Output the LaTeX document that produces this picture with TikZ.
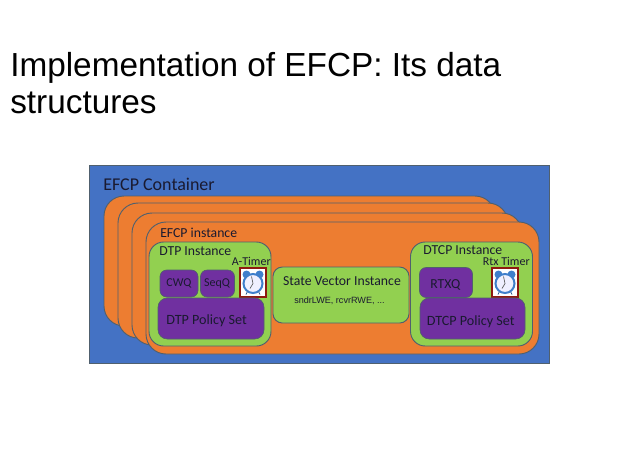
\documentclass[tikz,border=0pt]{standalone}
\usepackage{fontspec}
\setmainfont{Carlito}
\newfontfamily\titlefont{Liberation Sans}
\definecolor{cntblue}{HTML}{4472C4}
\definecolor{efcporange}{HTML}{ED7D31}
\definecolor{instgreen}{HTML}{92D050}
\definecolor{qpurple}{HTML}{7030A0}
\definecolor{edgegray}{HTML}{50606E}
\definecolor{timerred}{HTML}{8E1A10}
\definecolor{bellblue}{HTML}{3F7FCB}
\definecolor{inktext}{HTML}{1A1A30}
\tikzset{
  sized/.style 2 args={minimum width=#1*0.75pt, minimum height=#2*0.75pt, inner sep=0pt},
  efcpbox/.style={draw=edgegray, line width=0.7pt, fill=efcporange, rounded corners=15pt},
  instbox/.style={draw=edgegray, line width=0.7pt, fill=instgreen, rounded corners=11pt},
  qbox/.style={draw=edgegray, line width=0.5pt, fill=qpurple, rounded corners=5pt},
  policybox/.style={draw=edgegray, line width=0.5pt, fill=qpurple, rounded corners=7pt},
  timerbox/.style={draw=timerred, line width=1.8pt, fill=white},
  lbl/.style={font=\fontsize{10.3}{12}\selectfont, text=inktext, inner sep=0pt},
  smalllbl/.style={font=\fontsize{9}{10}\selectfont, text=inktext, inner sep=0pt},
  clockicon/.pic={
    \fill[bellblue] (-6.5,-8) circle (4);
    \fill[bellblue] (6.5,-8) circle (4);
    \draw[bellblue!70!black, line width=0.6pt] (-5,8) -- (-7,12) (5,8) -- (7,12);
    \draw[bellblue, line width=1.5pt, fill=blue!6] (0,1) circle (9.5);
    \draw[gray!70!black, line width=0.5pt] (0,1) -- (-1.5,-6) (0,1) -- (-3,6);
  }
}
\begin{document}
\begin{tikzpicture}[x=0.75pt, y=-0.75pt]
  \path[use as bounding box, fill=white] (0,0) rectangle (638,451);
  \node[font=\titlefont\fontsize{25}{27.75}\selectfont, text=black, align=left, anchor=north west, inner sep=0pt] (title) at (10,52.5)
    {Implementation of EFCP: Its data\\structures};

  \node[sized={460}{198}, draw=edgegray, line width=0.6pt, fill=cntblue] (container) at (319,264) {};
  \node[lbl, font=\fontsize{13.5}{15}\selectfont, anchor=west] (containerlbl) at (103,184) {EFCP Container};

  % stacked instances, back to front
  \node[efcpbox, sized={391}{130}] (efcp1) at (299.5,261) {};
  \node[efcpbox, sized={390}{135}] (efcp2) at (313,270.5) {};
  \node[efcpbox, sized={390}{132}] (efcp3) at (327,279) {};
  \node[efcpbox, sized={393}{132}] (efcp4) at (342.5,288) {};
  \node[lbl, anchor=west] (efcplbl) at (160,232.5) {EFCP instance};

  % DTP side
  \node[instbox, sized={122}{104}] (dtp) at (210,294) {};
  \node[lbl, anchor=west] (dtplbl) at (159,251) {DTP Instance};
  \node[smalllbl, anchor=east] (atimerlbl) at (271,261) {A-Timer};
  \node[qbox, sized={38}{27}] (cwq) at (179,283.5) {};
  \node[smalllbl] (cwqlbl) at (179,283.5) {CWQ};
  \node[qbox, sized={34}{27}] (seqq) at (217.5,283.5) {};
  \node[smalllbl] (seqqlbl) at (217,284) {SeqQ};
  \node[timerbox, sized={26}{29}] (atimer) at (253,282.5) {};
  \pic at (atimer) {clockicon};
  \node[policybox, sized={106}{41}] (dtppol) at (211,318.5) {};
  \node[lbl, font=\fontsize{10.6}{12}\selectfont, anchor=west] (dtppollbl) at (166,320.5) {DTP Policy Set};

  % state vector
  \node[instbox, rounded corners=7pt, sized={136}{56}] (state) at (341,295) {};
  \node[lbl] (statelbl) at (342,281) {State Vector Instance};
  \node[lbl, font=\titlefont\fontsize{6.8}{8}\selectfont] (statevars) at (339.5,300.5) {sndrLWE, rcvrRWE, ...};

  % DTCP side
  \node[instbox, sized={122}{104}] (dtcp) at (471.5,294) {};
  \node[lbl, anchor=west] (dtcplbl) at (423,250) {DTCP Instance};
  \node[smalllbl, anchor=east] (rtxlbl) at (530,261) {Rtx Timer};
  \node[qbox, sized={53}{30}] (rtxq) at (446,282.5) {};
  \node[lbl, anchor=west] (rtxqlbl) at (430,285) {RTXQ};
  \node[timerbox, sized={26}{29}] (rtxtimer) at (505,282.5) {};
  \pic at (rtxtimer) {clockicon};
  \node[policybox, sized={105}{41}] (dtcppol) at (472.5,318.5) {};
  \node[lbl, font=\fontsize{10.6}{12}\selectfont, anchor=west] (dtcppollbl) at (426.5,321.5) {DTCP Policy Set};
\end{tikzpicture}
\end{document}
